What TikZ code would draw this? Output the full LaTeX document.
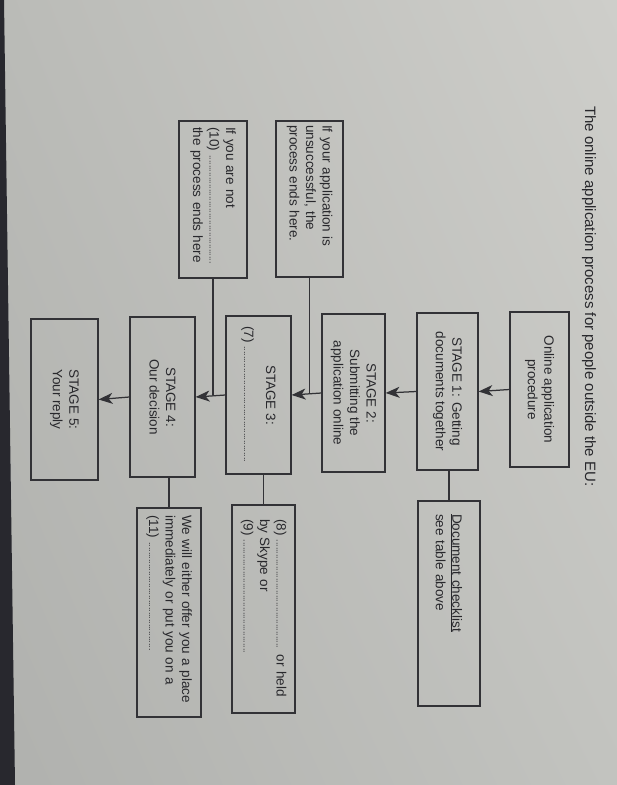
\documentclass[tikz,border=0pt]{standalone}
\usepackage{fontspec}
\setmainfont{Liberation Sans}
\usetikzlibrary{arrows.meta,shadings}
\definecolor{ink}{RGB}{40,40,44}
\definecolor{linec}{RGB}{50,50,54}
\definecolor{paperUL}{RGB}{186,187,183}
\definecolor{paperUR}{RGB}{206,206,202}
\definecolor{paperLL}{RGB}{176,177,174}
\definecolor{paperLR}{RGB}{194,195,191}
\definecolor{edge}{RGB}{40,40,46}
\newcommand\fs{\fontsize{13.5}{16.5}\selectfont}
\newcommand\dotrun[1]{\leavevmode\hbox to #1pt{\leaders\hbox to 2.4pt{\hss\fontsize{9}{9}\selectfont.\hss}\hfill}}
\begin{document}
\begin{tikzpicture}[x=1pt,y=-1pt,
  box/.style={draw=linec, line width=1.25pt, rotate=-90, inner sep=0pt,
              align=center, font=\fs, text=ink},
  lbox/.style={box, align=left},
  link/.style={draw=linec, line width=1.25pt},
  arr/.style={link, -{Stealth[length=14pt,width=11pt,inset=4pt]}}
]
\useasboundingbox (0,0) rectangle (617,785);
\shade[upper left=paperUL, upper right=paperUR, lower left=paperLL, lower right=paperLR]
  (0,0) rectangle (617,785);
\fill[edge] (0,0) -- (4,0) -- (15,785) -- (0,785) -- cycle;

\node[rotate=-90, anchor=west, inner sep=0pt, font=\fontsize{15}{18}\selectfont, text=ink]
  (title) at (589,106) {The online application process for people outside the EU:};

% main stages
\node[box, minimum width=155pt, minimum height=59pt] (online) at (539.5,389.5) {Online application\\procedure};
\node[box, minimum width=157pt, minimum height=61pt] (s1) at (447.5,391.5) {STAGE 1: Getting\\documents together};
\node[box, minimum width=158pt, minimum height=63pt] (s2) at (353.5,393) {STAGE 2:\\Submitting the\\application online};
\node[box, minimum width=158pt, minimum height=65pt] (s3) at (258.5,395) {STAGE 3:\\[5.5pt](7) \dotrun{117}};
\node[box, minimum width=160pt, minimum height=65pt] (s4) at (162.5,397) {STAGE 4:\\Our decision};
\node[box, minimum width=161pt, minimum height=67pt] (s5) at (64.5,399.5) {STAGE 5:\\Your reply};

% side boxes (top)
\node[lbox, minimum width=156pt, minimum height=67pt, inner xsep=4pt, text width=148pt] (unsucc) at (309.5,199)
  {If your application is\\unsuccessful, the\\process ends here.};
\node[lbox, minimum width=157pt, minimum height=68pt, inner xsep=6pt, text width=145pt] (ifnot) at (213,199.5)
  {If you are not\\(10) \dotrun{108}\\the process ends here};

% side boxes (bottom)
\node[lbox, minimum width=205pt, minimum height=62pt, inner xsep=13pt, text width=179pt] (doc) at (449,603.5)
  {\underline{Document checklist}\\see table above};
\node[lbox, minimum width=208pt, minimum height=63pt, inner xsep=14pt, text width=180pt] (eight) at (263.5,609)
  {(8) \dotrun{110} or held\\by Skype or\\(9) \dotrun{113}};
\node[lbox, minimum width=209pt, minimum height=64pt, inner xsep=7pt, text width=195pt] (will) at (169,612.5)
  {We will either offer you a place\\immediately or put you on a\\(11) \dotrun{108}};

% flow arrows
\draw[arr] (online.south) -- (s1.north);
\draw[arr] (s1.south) -- (s2.north);
\draw[arr] (s2.south) -- (s3.north);
\draw[arr] (s3.south) -- (s4.north);
\draw[arr] (s4.south) -- (s5.north);

% joins from the top boxes
\draw[link] (unsucc.east) -- (unsucc.east |- s2.south);
\draw[link] (ifnot.east) -- (ifnot.east |- s3.south);

% links to the bottom boxes
\draw[link] (doc.west |- s1.east) -- (doc.west);
\draw[link] (eight.west |- s3.east) -- (eight.west);
\draw[link] (will.west |- s4.east) -- (will.west);
\end{tikzpicture}
\end{document}
